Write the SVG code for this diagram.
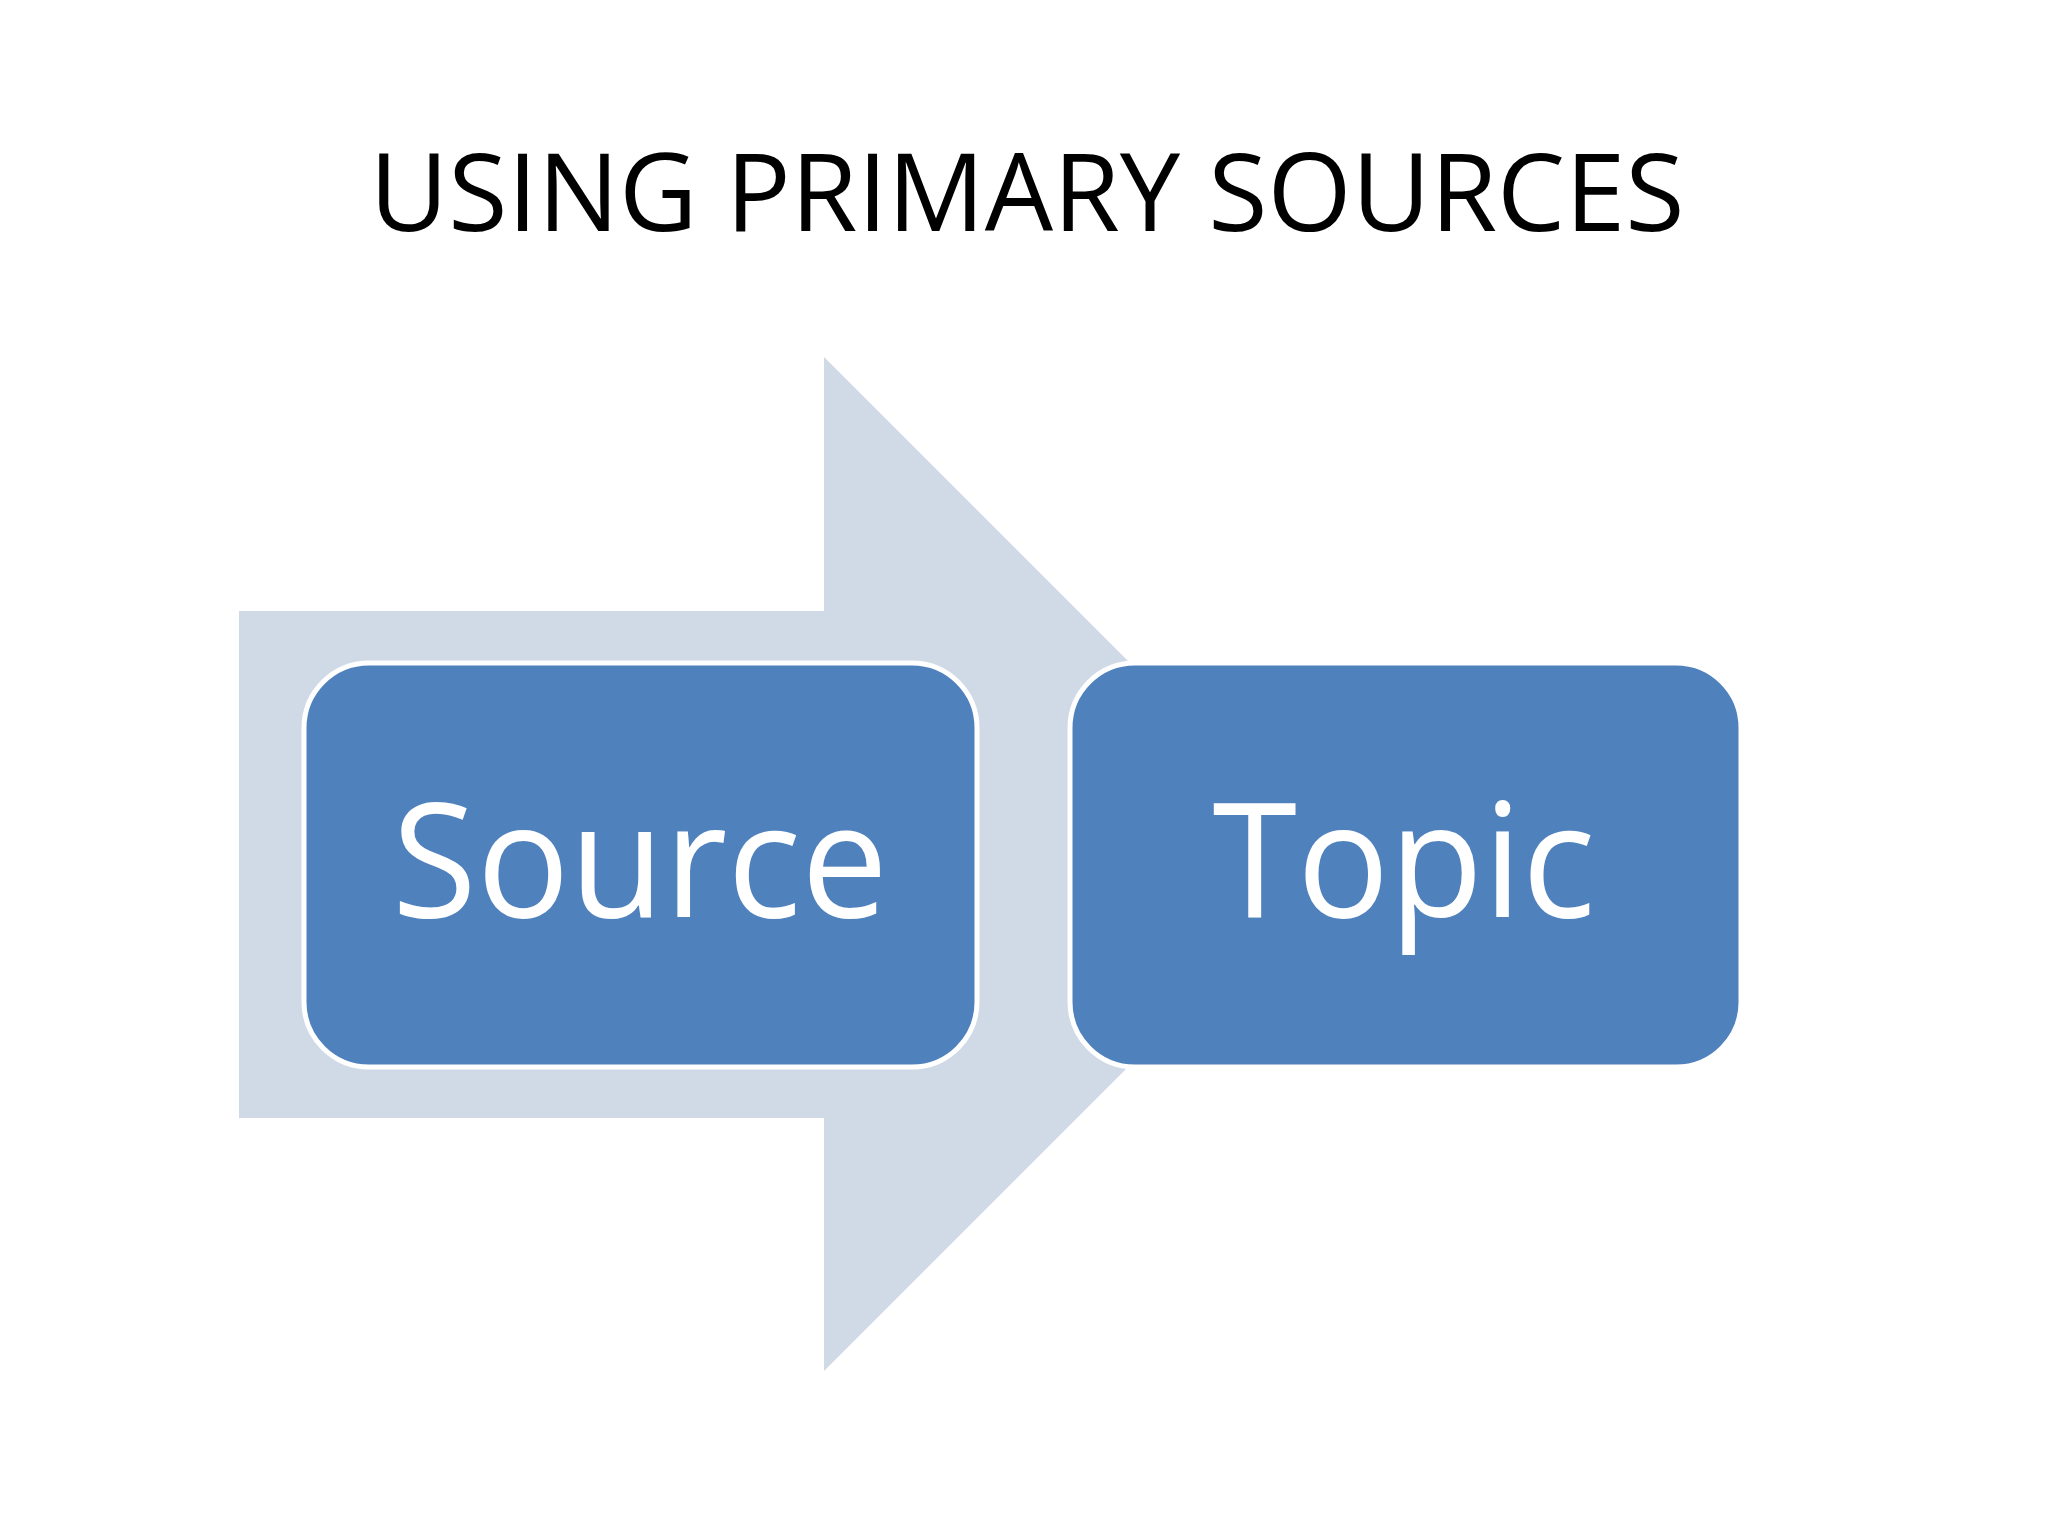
<svg xmlns="http://www.w3.org/2000/svg" width="2048" height="1536" viewBox="0 0 2048 1536">
<style>
.box{fill:#4F81BD;stroke:#FFFFFF;stroke-width:5}
.lbl{font-family:"Open Sans","Liberation Sans",sans-serif;fill:#FFFFFF;text-anchor:middle;font-size:160px}
</style>
<rect width="2048" height="1536" fill="#FFFFFF"/>
<text x="1027" y="231" font-family="Open Sans, Liberation Sans, sans-serif" font-size="108" text-anchor="middle" textLength="1315" lengthAdjust="spacingAndGlyphs" fill="#000">USING PRIMARY SOURCES</text>
<g id="arrow"><polygon points="239,611 824,611 824,357 1331,864 824,1371 824,1118 239,1118" fill="#D0DAE7"/></g>
<g id="source"><rect class="box" x="304" y="663" width="673" height="404" rx="65"/>
<text class="lbl" x="640" y="917" textLength="496" lengthAdjust="spacingAndGlyphs">Source</text></g>
<g id="topic"><rect class="box" x="1070" y="663" width="671" height="404" rx="65"/>
<text class="lbl" x="1404" y="917" textLength="383" lengthAdjust="spacingAndGlyphs">Topic</text></g>
<g id="connectors"/>
</svg>
